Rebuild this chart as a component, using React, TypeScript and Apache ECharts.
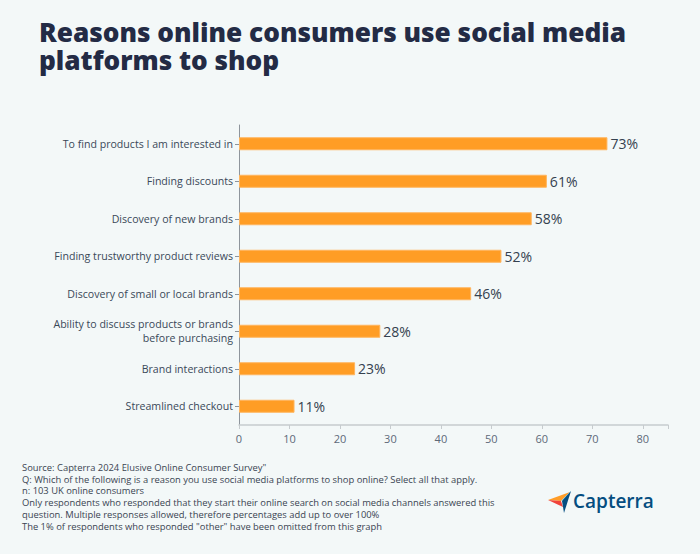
import React, { useEffect, useRef } from "react";
import * as echarts from "echarts";

const categories = [
  "To find products I am interested in",
  "Finding discounts",
  "Discovery of new brands",
  "Finding trustworthy product reviews",
  "Discovery of small or local brands",
  "Ability to discuss products or brands\nbefore purchasing",
  "Brand interactions",
  "Streamlined checkout",
];
const values = [73, 61, 58, 52, 46, 28, 23, 11];
const xTicks = [0, 10, 20, 30, 40, 50, 60, 70, 80];

const titleLines = ["Reasons online consumers use social media", "platforms to shop"];
const footnotes = [
  'Source: Capterra 2024 Elusive Online Consumer Survey"',
  "Q: Which of the following is a reason you use social media platforms to shop online? Select all that apply.",
  "n: 103 UK online consumers",
  "Only respondents who responded that they start their online search on social media channels answered this",
  "question. Multiple responses allowed, therefore percentages add up to over 100%",
  'The 1% of respondents who responded "other" have been omitted from this graph',
];

export default function App() {
  const ref = useRef<HTMLDivElement>(null);
  useEffect(() => {
    if (!ref.current) return;
    const chart = echarts.init(ref.current, null, { renderer: "svg" });
    const font = "'Open Sans', 'Noto Sans', sans-serif";
    const cats = [...categories].reverse();
    const vals = [...values].reverse();
    chart.setOption({
      animation: false,
      backgroundColor: "#f3f8f8",
      textStyle: { fontFamily: font },
      title: titleLines.map((t, i) => ({
        text: t,
        left: 39,
        top: 18 + i * 28,
        padding: 0,
        textStyle: {
          fontFamily: font,
          fontSize: 26.2,
          fontWeight: 800,
          lineHeight: 28,
          color: "#232b45",
        },
      })),
      grid: { left: 239, right: 32, top: 125, bottom: 129 },
      xAxis: {
        type: "value",
        min: 0,
        max: 85,
        interval: 10,
        splitLine: { show: false },
        axisLine: { show: true, lineStyle: { color: "#c6cbce", width: 1.5 } },
        axisTick: { show: true, length: 4, lineStyle: { color: "#c6cbce" } },
        axisLabel: {
          color: "#5d6978",
          fontSize: 11,
          margin: 8,
          formatter: (v: number) => (xTicks.includes(v) ? String(v) : ""),
        },
      },
      yAxis: {
        type: "category",
        data: cats,
        axisLine: { show: true, lineStyle: { color: "#8e959c" } },
        axisTick: { show: true, alignWithLabel: true, length: 4, lineStyle: { color: "#8e959c" } },
        axisLabel: { color: "#3a4858", fontSize: 10.6, margin: 6, lineHeight: 14 },
      },
      series: [
        {
          type: "bar",
          data: vals,
          barWidth: 13,
          itemStyle: { color: "#ff9d25", borderColor: "#ffb55e", borderWidth: 1 },
          label: {
            show: true,
            position: "right",
            distance: 3,
            formatter: "{c}%",
            fontSize: 14,
            color: "#34414f",
            fontFamily: font,
          },
        },
      ],
      graphic: [
        ...footnotes.map((t, i) => ({
          type: "text",
          left: 22,
          top: 463 + i * 11.7,
          style: { text: t, fontSize: 9.4, fill: "#3a4452", fontFamily: font },
        })),
        { type: "polygon", shape: { points: [[548, 500], [570, 492], [561, 501]] }, style: { fill: "#ff9d28" } },
        { type: "polygon", shape: { points: [[548, 500], [561, 501], [563, 507]] }, style: { fill: "#f0433b" } },
        { type: "polygon", shape: { points: [[561, 501], [570, 492], [571, 491], [566, 499]] }, style: { fill: "#68c5ee" } },
        { type: "polygon", shape: { points: [[562, 501], [571, 491], [564, 513]] }, style: { fill: "#044d80" } },
        {
          type: "text",
          left: 573,
          top: 491,
          style: { text: "Capterra", fontSize: 19, fontWeight: 600, fill: "#044d80", fontFamily: font },
        },
      ],
    });
    return () => chart.dispose();
  }, []);
  return (
    <div
      ref={ref}
      style={{ position: "absolute", left: 0, top: 0, width: 700, height: 554 }}
    />
  );
}
